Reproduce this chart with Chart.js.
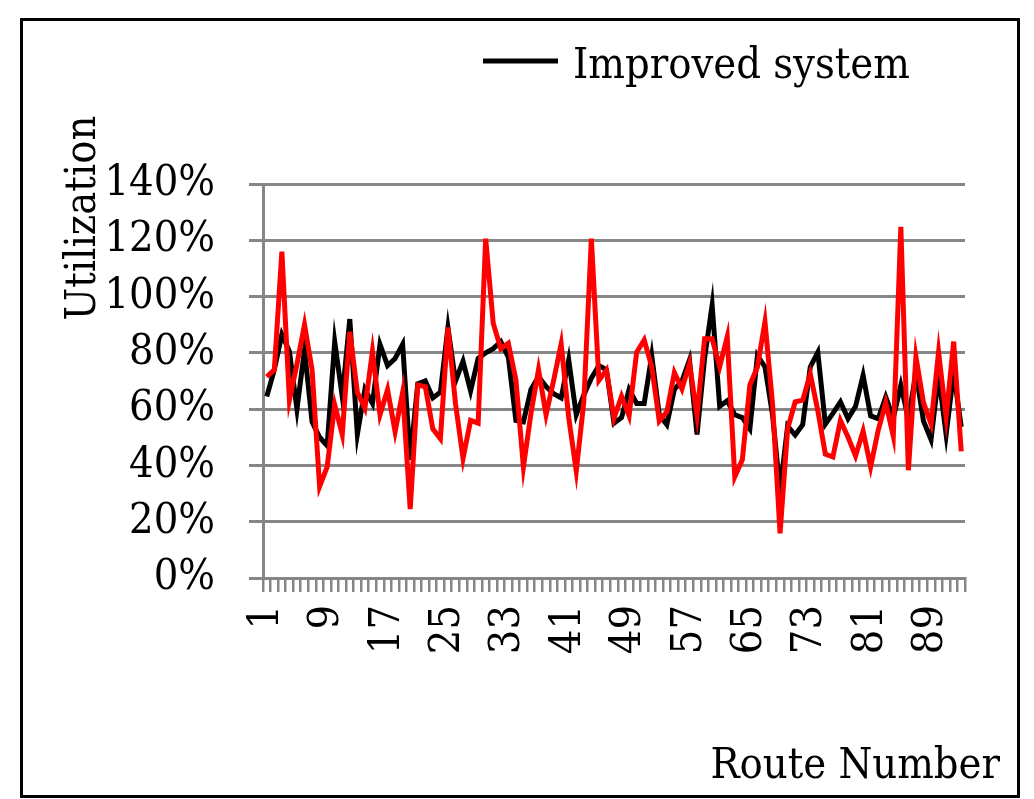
<!DOCTYPE html>
<html>
<head>
<meta charset="utf-8">
<script src="https://cdn.jsdelivr.net/npm/chart.js@4.4.1/dist/chart.umd.min.js"></script>
<style>
  html, body { margin: 0; padding: 0; background: #fff; }
  #wrap { width: 1034px; height: 799px; }
</style>
</head>
<body>
<div id="wrap"><canvas id="utilChart" width="1034" height="799"></canvas></div>
<script>
// route numbers 1..93 (categories)
const routes = Array.from({ length: 93 }, (_, i) => String(i + 1));
const shownTicks = ['1', '9', '17', '25', '33', '41', '49', '57', '65', '73', '81', '89'];
const yTicks = [0, 20, 40, 60, 80, 100, 120, 140];

// utilization in %
const improved = [
  64.5, 74, 86.5, 80.5, 60, 81, 55.5, 50, 47, 84,
  64.5, 92, 51, 67, 62, 83, 75.5, 78, 83, 42,
  69, 70, 64, 66, 89, 70, 77, 66.5, 78, 80,
  81.5, 84, 78.5, 56, 55.5, 67, 71.5, 68, 65.5, 64,
  77.5, 58, 65, 71, 75.5, 74, 55, 57, 67, 62,
  62, 79, 58, 54.5, 67, 70, 77.5, 51, 78, 97,
  61, 63, 58, 57, 53, 79, 75, 58, 31, 54,
  50.8, 54.5, 75, 80.2, 54.7, 58.5, 62.6, 56.6, 61, 72,
  57.6, 56.6, 64.3, 56.8, 68.5, 56.5, 73, 55.8, 49.2, 72,
  51, 73, 53.7
];
const current = [
  71.5, 74, 116, 63.3, 76, 90, 74, 32.5, 39.5, 61.5,
  51, 87.5, 66, 60.3, 80.5, 58, 67, 52, 66, 24.5,
  68.5, 68, 53, 49.5, 89, 62, 42.5, 56, 55, 120.6,
  90.5, 81.5, 83.4, 70.5, 39.5, 58.5, 74, 58, 70.2, 83.2,
  57, 38, 62.5, 120.6, 70.2, 73.9, 56.8, 64.6, 57.6, 80.2,
  84.6, 75, 55.8, 59, 73, 67.2, 76.2, 57.8, 85, 85,
  75.1, 85.7, 36, 42, 68.6, 75, 91, 62, 15.9, 53,
  62.6, 63.2, 72.5, 59.5, 44, 43, 56, 50.1, 43.4, 52.2,
  39.5, 52.5, 62.3, 50.4, 124.8, 38.3, 78.6, 62.3, 54.7, 80.3,
  57.2, 84, 45
];

const FONT = '"DejaVu Serif Condensed", "DejaVu Serif", serif';
const GRIS = '#868686';

Chart.defaults.font.family = FONT;
Chart.defaults.font.size = 43;
Chart.defaults.color = '#000';

// marco, leyenda y titulos de ejes
const decoracion = {
  id: 'decoracion',
  beforeDraw(chart) {
    const ctx = chart.ctx;
    ctx.save();
    ctx.fillStyle = '#fff';
    ctx.fillRect(0, 0, chart.width, chart.height);
    ctx.restore();
  },
  afterDraw(chart) {
    const ctx = chart.ctx;
    ctx.save();
    ctx.strokeStyle = '#000';
    ctx.lineWidth = 3;
    ctx.strokeRect(21.5, 19.5, 997, 777);

    // leyenda (solo la serie negra se ve)
    ctx.lineWidth = 5;
    ctx.beginPath();
    ctx.moveTo(483, 61);
    ctx.lineTo(558, 61);
    ctx.stroke();
    ctx.fillStyle = '#000';
    ctx.font = '43px ' + FONT;
    ctx.textBaseline = 'alphabetic';
    ctx.textAlign = 'left';
    ctx.fillText(chart.data.datasets[0].label, 573, 78);

    // titulo eje x
    ctx.textAlign = 'right';
    ctx.fillText('Route Number', 1000, 778);

    // titulo eje y
    ctx.translate(95, 218);
    ctx.rotate(-Math.PI / 2);
    ctx.textAlign = 'center';
    ctx.fillText('Utilization', 0, 0);
    ctx.restore();
  }
};

new Chart(document.getElementById('utilChart'), {
  type: 'line',
  data: {
    labels: routes,
    datasets: [
      {
        label: 'Improved system',
        data: improved,
        borderColor: '#000000',
        borderWidth: 5,
        pointRadius: 0,
        tension: 0,
        order: 2
      },
      {
        label: 'Current system',
        data: current,
        borderColor: '#ff0000',
        borderWidth: 5,
        pointRadius: 0,
        tension: 0,
        order: 1
      }
    ]
  },
  options: {
    responsive: false,
    animation: false,
    layout: { padding: { top: 184, right: 69, left: 0, bottom: 0 } },
    plugins: {
      legend: { display: false },
      tooltip: { enabled: false }
    },
    scales: {
      x: {
        type: 'category',
        offset: true,
        afterFit: (s) => { s.height = 221; },
        grid: {
          offset: true,
          drawOnChartArea: false,
          drawTicks: true,
          tickLength: 14,
          color: GRIS,
          lineWidth: 2.5
        },
        border: { display: true, color: GRIS, width: 3 },
        ticks: {
          autoSkip: false,
          minRotation: 90,
          maxRotation: 90,
          padding: 13,
          callback: function (v) {
            const lab = this.getLabelForValue(v);
            return shownTicks.includes(lab) ? lab : '';
          }
        }
      },
      y: {
        min: yTicks[0],
        max: yTicks[yTicks.length - 1],
        afterFit: (s) => { s.width = 263; },
        afterBuildTicks: (s) => { s.ticks = yTicks.map(v => ({ value: v })); },
        grid: {
          color: GRIS,
          lineWidth: 3,
          tickLength: 14
        },
        border: { display: true, color: GRIS, width: 3 },
        ticks: {
          padding: 34,
          callback: (v) => v + '%'
        }
      }
    }
  },
  plugins: [decoracion]
});
</script>
</body>
</html>
